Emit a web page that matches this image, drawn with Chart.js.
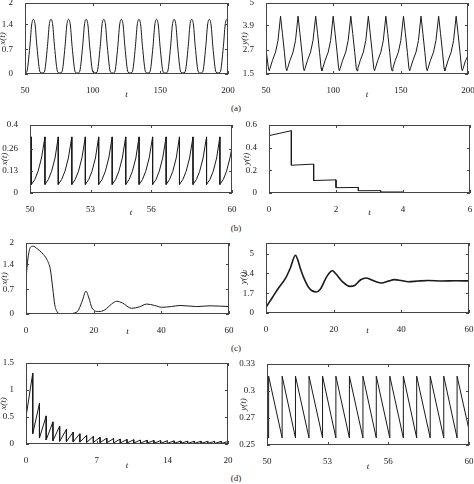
<!DOCTYPE html>
<html>
<head>
<meta charset="utf-8">
<script src="https://cdn.jsdelivr.net/npm/chart.js@4.4.0/dist/chart.umd.min.js"></script>
<style>
  html, body { margin: 0; padding: 0; background: #fff; width: 474px; height: 484px; overflow: hidden; position: relative; }
  .panel { position: absolute; }
  .cap { position: absolute; font: 9px "Liberation Serif", serif; color: #222; transform: translate(-50%, -50%); }
</style>
</head>
<body>
<div class="cap" style="left:236px;top:108px">(a)</div>
<div class="cap" style="left:236px;top:228px">(b)</div>
<div class="cap" style="left:236px;top:348px">(c)</div>
<div class="cap" style="left:236px;top:478px">(d)</div>
<script>
// ---- (a) left: x(t), t = 50..200
const aLeftT = [50,
  51.2, 53.6, 54.9, 56.2, 57.5, 58.8, 61.2, 62.7,
  64.2, 66.6, 67.9, 69.2, 70.5, 71.8, 74.2, 75.7,
  77.2, 79.6, 80.9, 82.2, 83.5, 84.8, 87.2, 88.7,
  90.2, 92.6, 93.9, 95.2, 96.5, 97.8, 100.2, 101.7,
  103.2, 105.6, 106.9, 108.2, 109.5, 110.8, 113.2, 114.7,
  116.2, 118.6, 119.9, 121.2, 122.5, 123.8, 126.2, 127.7,
  129.2, 131.6, 132.9, 134.2, 135.5, 136.8, 139.2, 140.7,
  142.2, 144.6, 145.9, 147.2, 148.5, 149.8, 152.2, 153.7,
  155.2, 157.6, 158.9, 160.2, 161.5, 162.8, 165.2, 166.7,
  168.2, 170.6, 171.9, 173.2, 174.5, 175.8, 178.2, 179.7,
  181.2, 183.6, 184.9, 186.2, 187.5, 188.8, 191.2, 192.7,
  194.2, 196.6, 197.9, 199.2, 200];
const aLeftX = [0.03,
  0.05, 0.78, 1.38, 1.54, 1.38, 0.78, 0.05, 0.03,
  0.05, 0.78, 1.38, 1.54, 1.38, 0.78, 0.05, 0.03,
  0.05, 0.78, 1.38, 1.54, 1.38, 0.78, 0.05, 0.03,
  0.05, 0.78, 1.38, 1.54, 1.38, 0.78, 0.05, 0.03,
  0.05, 0.78, 1.38, 1.54, 1.38, 0.78, 0.05, 0.03,
  0.05, 0.78, 1.38, 1.54, 1.38, 0.78, 0.05, 0.03,
  0.05, 0.78, 1.38, 1.54, 1.38, 0.78, 0.05, 0.03,
  0.05, 0.78, 1.38, 1.54, 1.38, 0.78, 0.05, 0.03,
  0.05, 0.78, 1.38, 1.54, 1.38, 0.78, 0.05, 0.03,
  0.05, 0.78, 1.38, 1.54, 1.38, 0.78, 0.05, 0.03,
  0.05, 0.78, 1.38, 1.54, 1.38, 0.78, 0.05, 0.03,
  0.05, 0.78, 1.38, 1.54, 1.5];

// ---- (a) right: y(t), t = 50..200
const aRightT = [50, 51.8, 52.4, 53.0, 54.7, 57.1, 58.9,
  60.8, 62.2, 63.7, 64.8, 65.4, 66.0, 67.7, 70.1, 71.9,
  73.8, 75.2, 76.7, 77.8, 78.4, 79.0, 80.7, 83.1, 84.9,
  86.9, 88.3, 89.8, 90.9, 91.5, 92.1, 93.8, 96.2, 98.0,
  99.9, 101.3, 102.8, 103.9, 104.5, 105.1, 106.8, 109.2, 111.0,
  113.0, 114.4, 115.9, 117.0, 117.6, 118.2, 119.9, 122.3, 124.1,
  126.0, 127.4, 128.9, 130.0, 130.6, 131.2, 132.9, 135.3, 137.1,
  139.0, 140.4, 141.9, 143.0, 143.6, 144.2, 145.9, 148.3, 150.1,
  152.1, 153.5, 155.0, 156.1, 156.7, 157.3, 159.0, 161.4, 163.2,
  165.1, 166.5, 168.0, 169.1, 169.7, 170.3, 172.0, 174.4, 176.2,
  178.2, 179.6, 181.1, 182.2, 182.8, 183.4, 185.1, 187.5, 189.3,
  191.2, 192.6, 194.1, 195.2, 195.8, 196.4, 198.1, 200];
const aRightY = [2.7, 1.8, 1.66, 1.78, 2.15, 2.58, 3.15,
  4.35, 3.5, 2.55, 1.8, 1.66, 1.78, 2.15, 2.58, 3.15,
  4.35, 3.5, 2.55, 1.8, 1.66, 1.78, 2.15, 2.58, 3.15,
  4.35, 3.5, 2.55, 1.8, 1.66, 1.78, 2.15, 2.58, 3.15,
  4.35, 3.5, 2.55, 1.8, 1.66, 1.78, 2.15, 2.58, 3.15,
  4.35, 3.5, 2.55, 1.8, 1.66, 1.78, 2.15, 2.58, 3.15,
  4.35, 3.5, 2.55, 1.8, 1.66, 1.78, 2.15, 2.58, 3.15,
  4.35, 3.5, 2.55, 1.8, 1.66, 1.78, 2.15, 2.58, 3.15,
  4.35, 3.5, 2.55, 1.8, 1.66, 1.78, 2.15, 2.58, 3.15,
  4.35, 3.5, 2.55, 1.8, 1.66, 1.78, 2.15, 2.58, 3.15,
  4.35, 3.5, 2.55, 1.8, 1.66, 1.78, 2.15, 2.58, 3.15,
  4.35, 3.5, 2.55, 1.8, 1.66, 1.78, 2.15, 2.4];

// ---- (b) left: x(t), t = 50..60
const bLeftT = [50, 50.07,
  50.07, 50.24, 50.40, 50.57, 50.74,
  50.74, 50.91, 51.07, 51.24, 51.40,
  51.40, 51.57, 51.73, 51.90, 52.07,
  52.07, 52.24, 52.40, 52.57, 52.74,
  52.74, 52.91, 53.07, 53.24, 53.40,
  53.40, 53.57, 53.73, 53.90, 54.07,
  54.07, 54.24, 54.40, 54.57, 54.74,
  54.74, 54.91, 55.07, 55.24, 55.40,
  55.40, 55.57, 55.73, 55.90, 56.07,
  56.07, 56.24, 56.40, 56.57, 56.74,
  56.74, 56.91, 57.07, 57.24, 57.40,
  57.40, 57.57, 57.73, 57.90, 58.07,
  58.07, 58.24, 58.40, 58.57, 58.74,
  58.74, 58.91, 59.07, 59.24, 59.40,
  59.40, 59.57, 59.73, 59.90, 60];
const bLeftX = [0.27, 0.33,
  0.05, 0.08, 0.128, 0.206, 0.33,
  0.05, 0.08, 0.128, 0.206, 0.33,
  0.05, 0.08, 0.128, 0.206, 0.33,
  0.05, 0.08, 0.128, 0.206, 0.33,
  0.05, 0.08, 0.128, 0.206, 0.33,
  0.05, 0.08, 0.128, 0.206, 0.33,
  0.05, 0.08, 0.128, 0.206, 0.33,
  0.05, 0.08, 0.128, 0.206, 0.33,
  0.05, 0.08, 0.128, 0.206, 0.33,
  0.05, 0.08, 0.128, 0.206, 0.33,
  0.05, 0.08, 0.128, 0.206, 0.33,
  0.05, 0.08, 0.128, 0.206, 0.33,
  0.05, 0.08, 0.128, 0.206, 0.33,
  0.05, 0.08, 0.128, 0.206, 0.33,
  0.05, 0.08, 0.128, 0.206, 0.27];

// ---- (b) right: y(t), t = 0..6
const bRightT = [0, 0.667, 0.667, 1.333, 1.333, 2, 2, 2.667, 2.667, 3.333, 3.333, 4, 4, 4.667, 4.667, 5.333, 5.333, 6];
const bRightY = [0.506, 0.55, 0.245, 0.255, 0.11, 0.116, 0.047, 0.049, 0.02, 0.021, 0.009, 0.009, 0.004, 0.004, 0.002, 0.002, 0.001, 0.001];

// ---- (c) left: x(t), t = 0..60
const cLeftT = [0, 0.6, 1.3, 2.1, 3.3, 4.7, 6.2, 7.2, 7.9, 8.5, 9.2, 10.1, 12.6, 15.1, 16.6, 17.7, 18.6, 19.5, 21.5, 23.2,
  25.3, 26.8, 28.5, 31.2, 33.5, 35.7, 38, 40.1, 43, 45.5, 50.4, 54.4, 60];
const cLeftX = [1.0, 1.58, 1.88, 1.91, 1.84, 1.72, 1.53, 1.25, 0.73, 0.26, 0.06, 0.01, 0.01, 0.06, 0.36, 0.64, 0.45, 0.17, 0.07, 0.11,
  0.28, 0.36, 0.31, 0.16, 0.2, 0.28, 0.24, 0.19, 0.21, 0.24, 0.21, 0.23, 0.21];

// ---- (c) right: y(t), t = 0..60
const cRightT = [0, 1.8, 3.7, 5.7, 7.2, 8.7, 9.4, 10.1, 11.4, 12.9, 14.8, 16.1, 18.0, 19.6, 20.7, 22.5, 24.8, 26.2, 28.0, 29.6,
  32.0, 34.2, 36.0, 38.0, 40.0, 42.0, 45, 48, 52, 56, 60];
const cRightY = [0.49, 1.29, 2.14, 2.94, 3.86, 4.95, 4.55, 3.86, 2.86, 2.08, 1.8, 2.06, 3.14, 3.62, 3.34, 2.71, 2.28, 2.36, 2.85, 3.0,
  2.74, 2.57, 2.72, 2.86, 2.78, 2.68, 2.74, 2.78, 2.74, 2.76, 2.75];

// ---- (d) left: x(t), impulses every 2/3
const dLeftStart = [0, 0.5];
const dLeftEnd = [20, 0.047];
const dLeftJumps = [0.667, 1.333, 2, 2.667, 3.333, 4, 4.667, 5.333, 6, 6.667, 7.333, 8, 8.667, 9.333, 10,
  10.667, 11.333, 12, 12.667, 13.333, 14, 14.667, 15.333, 16, 16.667, 17.333, 18, 18.667, 19.333];
const dLeftPeaks = [1.31, 0.75, 0.52, 0.41, 0.33, 0.27, 0.22, 0.19, 0.16, 0.14, 0.125, 0.11, 0.10, 0.092, 0.085,
  0.079, 0.074, 0.07, 0.066, 0.063, 0.06, 0.058, 0.056, 0.054, 0.052, 0.051, 0.05, 0.049, 0.048];
const dLeftTroughs = [0.19, 0.11, 0.075, 0.06, 0.05, 0.045, 0.04, 0.035, 0.03, 0.028, 0.025, 0.022, 0.02, 0.019, 0.018,
  0.017, 0.016, 0.015, 0.014, 0.013, 0.013, 0.012, 0.012, 0.011, 0.011, 0.011, 0.01, 0.01, 0.01];

// ---- (d) right: y(t), t = 50..60
const dRightStart = [50, 0.264];
const dRightEnd = [60, 0.265];
const dRightJumps = [50.08, 50.75, 51.41, 52.08, 52.75, 53.41, 54.08, 54.75, 55.41, 56.08, 56.75, 57.41, 58.08, 58.75, 59.41];
const dRightLows = [0.257, 0.257, 0.257, 0.257, 0.257, 0.257, 0.257, 0.257, 0.257, 0.257, 0.257, 0.257, 0.257, 0.257, 0.257];
const dRightHighs = [0.318, 0.318, 0.318, 0.318, 0.318, 0.318, 0.318, 0.318, 0.318, 0.318, 0.318, 0.318, 0.318, 0.318, 0.318];

// ---- tick values and labels
const ticksA_x = [50, 100, 150, 200];
const ticksAL_y = [0, 0.7, 1.4, 2];
const ticksAR_y = [1.5, 2.7, 3.9, 5];
const ticksB_x = [50, 53, 56, 60];
const ticksBL_y = [0, 0.13, 0.26, 0.4];
const ticksBR_x = [0, 2, 4, 6];
const ticksBR_y = [0, 0.2, 0.4, 0.6];
const ticksC_x = [0, 20, 40, 60];
const ticksCL_y = [0, 0.7, 1.4, 2];
const ticksCR_y = [0, 1.7, 3.4, 5.1];
const labelsCR_y = ['0', '1.7', '3.4', '5'];
const ticksDL_x = [0, 7, 14, 20];
const ticksDL_y = [0, 0.5, 1, 1.5];
const ticksDR_x = [50, 53, 56, 60];
const ticksDR_y = [0.25, 0.27667, 0.30333, 0.33];
const labelsDR_y = ['0.25', '0.27', '0.3', '0.33'];

const FONT = { family: '"Liberation Serif", "DejaVu Serif", serif', size: 9 };
const INK = '#1a1a1a';

function toPoints(ts, vs) {
  return ts.map((t, i) => ({ x: t, y: vs[i] }));
}

// impulsive series: value before each jump, then value after it
function jumpPoints(start, jumps, before, after, end) {
  const pts = [{ x: start[0], y: start[1] }];
  jumps.forEach((t, i) => {
    pts.push({ x: t, y: before[i] });
    pts.push({ x: t, y: after[i] });
  });
  pts.push({ x: end[0], y: end[1] });
  return pts;
}

// frame on all four sides with inward tick marks
const framePlugin = {
  id: 'frame',
  afterDatasetsDraw(chart) {
    const { ctx, chartArea: a, scales: { x, y } } = chart;
    ctx.save();
    ctx.strokeStyle = '#444';
    ctx.lineWidth = 1;
    ctx.strokeRect(a.left + 0.5, a.top + 0.5, a.right - a.left - 1, a.bottom - a.top - 1);
    ctx.beginPath();
    x.ticks.forEach(t => {
      const px = Math.round(x.getPixelForValue(t.value)) + 0.5;
      ctx.moveTo(px, a.bottom); ctx.lineTo(px, a.bottom - 3);
      ctx.moveTo(px, a.top); ctx.lineTo(px, a.top + 3);
    });
    y.ticks.forEach(t => {
      const py = Math.round(y.getPixelForValue(t.value)) + 0.5;
      ctx.moveTo(a.left, py); ctx.lineTo(a.left + 3, py);
      ctx.moveTo(a.right, py); ctx.lineTo(a.right - 3, py);
    });
    ctx.stroke();
    ctx.restore();
  }
};

// box = [left, top, right, bottom] of the plot frame on the page
function makePanel(box, cfg) {
  const yw = cfg.yw, xh = cfg.xh, padT = 6, padR = 9;
  const w = box[2] - box[0] + yw + padR;
  const h = box[3] - box[1] + padT + xh;
  const holder = document.createElement('div');
  holder.className = 'panel';
  holder.style.left = (box[0] - yw) + 'px';
  holder.style.top = (box[1] - padT) + 'px';
  const canvas = document.createElement('canvas');
  canvas.width = w;
  canvas.height = h;
  holder.appendChild(canvas);
  document.body.appendChild(holder);

  const xLabels = cfg.xLabels || cfg.xTicks.map(String);
  const yLabels = cfg.yLabels || cfg.yTicks.map(String);

  new Chart(canvas, {
    type: 'line',
    data: {
      datasets: [{
        data: cfg.points,
        borderColor: INK,
        borderWidth: cfg.lineWidth || 1,
        pointRadius: 0,
        fill: false,
        tension: 0,
        cubicInterpolationMode: cfg.smooth ? 'monotone' : 'default'
      }]
    },
    options: {
      responsive: false,
      devicePixelRatio: 1,
      animation: false,
      layout: { padding: { top: padT, right: padR, left: 0, bottom: 0 } },
      plugins: { legend: { display: false }, tooltip: { enabled: false } },
      scales: {
        x: {
          type: 'linear',
          min: cfg.xTicks[0],
          max: cfg.xTicks[cfg.xTicks.length - 1],
          afterBuildTicks: s => { s.ticks = cfg.xTicks.map(v => ({ value: v })); },
          afterFit: s => { s.height = xh; s.paddingLeft = 0; s.paddingRight = 0; },
          ticks: { autoSkip: false, maxRotation: 0, padding: 3, font: FONT, color: INK,
                   callback: (v, i) => xLabels[i] },
          grid: { display: false },
          border: { display: false },
          title: { display: true, text: 't', font: { ...FONT, style: 'italic' }, color: INK, padding: 0 }
        },
        y: {
          type: 'linear',
          min: cfg.yMin,
          max: cfg.yMax,
          afterBuildTicks: s => { s.ticks = cfg.yTicks.map(v => ({ value: v })); },
          afterFit: s => { s.width = yw; s.paddingTop = 0; s.paddingBottom = 0; },
          ticks: { autoSkip: false, padding: 4, font: FONT, color: INK,
                   callback: (v, i) => yLabels[i] },
          grid: { display: false },
          border: { display: false },
          title: { display: true, text: cfg.yTitle, font: { ...FONT, style: 'italic' }, color: INK, padding: 0 }
        }
      }
    },
    plugins: [framePlugin]
  });
}

makePanel([25, 3, 228, 74], {
  yw: 28, xh: 26, yTitle: 'x(t)', smooth: true,
  points: toPoints(aLeftT, aLeftX),
  xTicks: ticksA_x, yTicks: ticksAL_y, yMin: 0, yMax: 2
});
makePanel([266, 3, 468, 74], {
  yw: 27, xh: 26, yTitle: 'y(t)',
  points: toPoints(aRightT, aRightY),
  xTicks: ticksA_x, yTicks: ticksAR_y, yMin: 1.5, yMax: 5
});
makePanel([30, 125, 232, 193], {
  yw: 31, xh: 25, yTitle: 'x(t)',
  points: toPoints(bLeftT, bLeftX),
  xTicks: ticksB_x, yTicks: ticksBL_y, yMin: 0, yMax: 0.4
});
makePanel([269, 125, 470, 193], {
  yw: 28, xh: 25, yTitle: 'y(t)',
  points: toPoints(bRightT, bRightY),
  xTicks: ticksBR_x, yTicks: ticksBR_y, yMin: 0, yMax: 0.6
});
makePanel([26, 243, 229, 314], {
  yw: 27, xh: 23, yTitle: 'x(t)', smooth: true,
  points: toPoints(cLeftT, cLeftX),
  xTicks: ticksC_x, yTicks: ticksCL_y, yMin: 0, yMax: 2
});
makePanel([266, 243, 469, 313], {
  yw: 28, xh: 23, yTitle: 'y(t)', smooth: true, lineWidth: 1.6,
  points: toPoints(cRightT, cRightY),
  xTicks: ticksC_x, yTicks: ticksCR_y, yLabels: labelsCR_y, yMin: 0, yMax: 6
});
makePanel([26, 363, 228, 444], {
  yw: 28, xh: 27, yTitle: 'x(t)',
  points: jumpPoints(dLeftStart, dLeftJumps, dLeftPeaks, dLeftTroughs, dLeftEnd),
  xTicks: ticksDL_x, yTicks: ticksDL_y, yMin: 0, yMax: 1.5
});
makePanel([267, 364, 469, 445], {
  yw: 29, xh: 27, yTitle: 'y(t)',
  points: jumpPoints(dRightStart, dRightJumps, dRightLows, dRightHighs, dRightEnd),
  xTicks: ticksDR_x, yTicks: ticksDR_y, yLabels: labelsDR_y, yMin: 0.25, yMax: 0.33
});
</script>
</body>
</html>
